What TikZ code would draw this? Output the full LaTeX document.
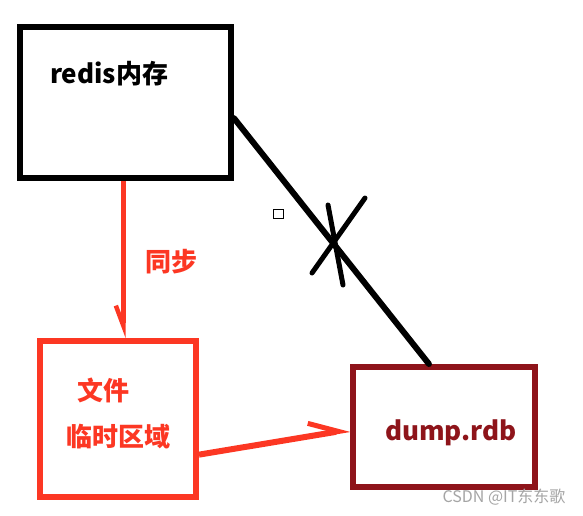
\documentclass[tikz,border=0pt]{standalone}
\usepackage{fontspec}
\newfontfamily\cjk{Noto Sans CJK SC}
\usetikzlibrary{arrows.meta,calc}
\definecolor{myred}{RGB}{252,55,35}
\definecolor{mydark}{RGB}{142,20,26}
\definecolor{wm}{RGB}{165,165,165}
\tikzset{
  boxnode/.style={draw,line width=6pt,inner sep=0pt,minimum width=#1},
  lbl/.style={font=\cjk\bfseries\fontsize{26}{29}\selectfont,inner sep=0pt},
}
\begin{document}
\begin{tikzpicture}[x=1pt,y=-1pt]
\useasboundingbox[fill=white] (0,0) rectangle (583,515);
% boxes
\node[boxnode=211pt,minimum height=151pt,draw=black] (redis) at (125.5,102.5) {};
\node[boxnode=156pt,minimum height=156pt,draw=myred] (temp) at (118,419) {};
\node[boxnode=182pt,minimum height=120pt,draw=mydark] (dump) at (444,427) {};
% texts
\node[lbl,text=black] (t1) at (109,74) {redis内存};
\node[lbl,text=myred] (t2) at (171,262) {同步};
\node[lbl,text=myred] (t3) at (103,390) {文件};
\node[lbl,text=myred] (t4) at (118,437) {临时区域};
\node[lbl,text=mydark] (t5) at (451,433) {dump.rdb};
\node[font=\cjk\fontsize{16}{18}\selectfont,text=wm,inner sep=0pt] (wmk) at (504,497) {CSDN @IT东东歌};
% connector anchors
\coordinate (rs) at ($(redis.south west)!0.49!(redis.south east)$);
\coordinate (te) at ($(temp.north east)!0.72!(temp.south east)$);
\coordinate (dw) at ($(dump.north west)!0.52!(dump.south west)$);
\coordinate (re) at ($(redis.north east)!0.6!(redis.south east)$);
\coordinate (dn) at ($(dump.north west)!0.42!(dump.north east)$);
% connectors
\draw[myred,line width=4.5pt,-{Straight Barb[harpoon,swap,length=20pt,width=15pt,line width=4.5pt]}]
  (rs) -- (rs |- temp.north);
\draw[myred,line width=6pt,-{Straight Barb[harpoon,length=29pt,width=26pt,line width=5pt]}]
  (te) -- (dw);
\draw[black,line width=6pt,line cap=round] (re) -- (dn);
% cross mark
\draw[black,line width=5pt,line cap=round] (312,273) -- (365,198);
\draw[black,line width=5pt,line cap=round] (328,205) -- (343,285);
% small square
\draw[black,line width=1pt] (273,209) rectangle (283,218);
\end{tikzpicture}
\end{document}
